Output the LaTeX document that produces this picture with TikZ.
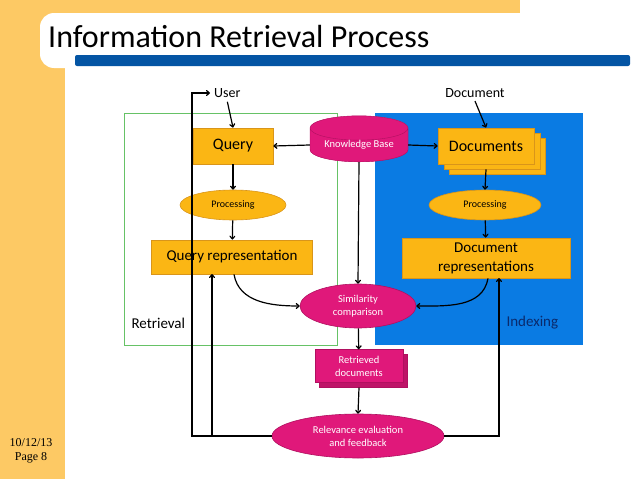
\documentclass[tikz,border=0pt]{standalone}
\usepackage{fontspec}
\setmainfont{Carlito}
\newfontfamily\tms{Liberation Serif}
\usetikzlibrary{shapes.geometric,arrows.meta}
\definecolor{orbg}{HTML}{FDC964}
\definecolor{bbar}{HTML}{0455A4}
\definecolor{iblue}{HTML}{0A7BE3}
\definecolor{ybox}{HTML}{FBB614}
\definecolor{ybord}{HTML}{D9951A}
\definecolor{pink}{HTML}{E0187A}
\definecolor{pbord}{HTML}{B01060}
\definecolor{navy}{HTML}{0B2A6B}
\tikzset{
 yb/.style={draw=ybord,fill=ybox,line width=0.8pt,inner sep=0pt},
 yel/.style={ellipse,draw=ybord,fill=ybox,line width=0.6pt,inner sep=0pt,font=\fontsize{10}{11}\selectfont},
 pel/.style={ellipse,draw=pbord,fill=pink,line width=0.6pt,inner sep=0pt,text=white,font=\fontsize{10.5}{13}\selectfont,align=center},
 arr/.style={line width=1.2pt,-{To[length=4pt,width=6pt]}},
 lbl/.style={font=\fontsize{14}{16}\selectfont}
}
\begin{document}
\begin{tikzpicture}[x=1pt,y=-1pt]
\useasboundingbox (0,0) rectangle (638,479);
\fill[white] (0,0) rectangle (638,479);
\fill[orbg] (0,0) rectangle (520,13);
\fill[orbg] (0,0) rectangle (65,479);
\fill[white,rounded corners=14pt] (40,13) rectangle (700,68);
\fill[white] (65,60) rectangle (638,479);
\fill[bbar,rounded corners=2pt] (75,55) rectangle (630,66);
\node[anchor=base west,font=\fontsize{32}{34}\selectfont,inner sep=0pt] (title) at (48,47) {Information Retrieval Process};
% panels
\draw[green!60!black!60,line width=0.6pt,fill=white] (124,113) rectangle (337,345);
\fill[iblue] (375,113) rectangle (583,345);
\node[anchor=west,font=\fontsize{15}{17}\selectfont] (ret) at (128,323) {Retrieval};
\node[anchor=west,font=\fontsize{15}{17}\selectfont,text=navy] (idx) at (503,323) {Indexing};
% labels
\node[lbl,anchor=west,inner sep=4pt] (user) at (210,93) {User};
\node[lbl] (doc) at (475,93) {Document};
% nodes
\node[yb,minimum width=80,minimum height=36,font=\fontsize{16}{18}\selectfont] (query) at (233,146) {Query};
\node[cylinder,shape border rotate=90,aspect=0.35,draw=pbord,fill=pink,minimum width=98,minimum height=46,inner sep=0pt,text=white,font=\fontsize{10.5}{12}\selectfont,cylinder uses custom fill,cylinder body fill=pink,cylinder end fill=pink!60] (kb) at (359,145) {Knowledge Base};
\node[yb,minimum width=96,minimum height=36] at (497,156) {};
\node[yb,minimum width=96,minimum height=36] at (492,151) {};
\node[yb,minimum width=96,minimum height=36,font=\fontsize{16}{18}\selectfont] (docs) at (486,146) {Documents};
\node[yel,minimum width=106,minimum height=30] (pl) at (233,205) {Processing};
\node[yel,minimum width=112,minimum height=30] (pr) at (485,205) {Processing};
\node[yb,minimum width=161,minimum height=34,font=\fontsize{15}{17}\selectfont] (qr) at (232,257) {Query representation};
\node[yb,minimum width=168,minimum height=40,align=center,font=\fontsize{15}{19}\selectfont] (dr) at (486,258) {Document\\representations};
\node[pel,minimum width=116,minimum height=44] (sim) at (358,306) {Similarity\\comparison};
\node[draw=pbord,fill=pink!85!black,minimum width=88,minimum height=33] at (363,371) {};
\node[draw=pbord,fill=pink,minimum width=88,minimum height=33,text=white,align=center,inner sep=0pt,font=\fontsize{10.5}{13}\selectfont] (rd) at (359,366) {Retrieved\\documents};
\node[pel,minimum width=172,minimum height=44] (rel) at (358,436) {Relevance evaluation\\and feedback};
% date
\node[font=\tms\fontsize{12}{14}\selectfont,align=center] (date) at (31,451) {10/12/13\\Page 8};
% arrows
\draw[arr] (user.south) ++(0,0) -- (query.north);
\draw[arr] (doc.south) -- (docs.north);
\draw[arr] (kb.west) -- (query.east);
\draw[arr] (kb.east) -- (docs.west);
\draw[arr] (kb.south) -- (sim.north);
\draw[arr] (query) -- (pl);
\draw[arr] (pl) -- (qr);
\draw[arr] (docs.south) ++(0,5) -- (pr.north);
\draw[arr] (pr) -- (dr);
\draw[arr] (qr.south) ++(2,0) to[out=-80,in=180] (sim.west);
\draw[arr] (dr.south) ++(2,0) to[out=-100,in=0] (sim.east);
\draw[arr] (sim) -- (rd);
\draw[arr] (rd.south) ++(0,5) -- (rel.north);
\draw[arr] (rel.west) -| (192,93) -- (user.west);
\draw[arr] (212,436) -- (212,274);
\draw[arr] (rel.east) -| (499,278);
\end{tikzpicture}
\end{document}
